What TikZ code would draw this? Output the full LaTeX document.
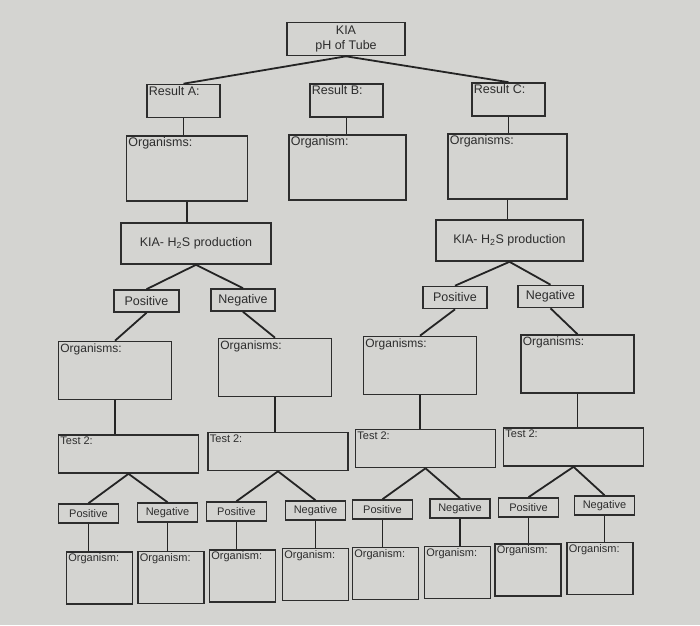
\documentclass[tikz,border=0pt]{standalone}
\usepackage{fontspec}
\setmainfont{Liberation Sans}
\usetikzlibrary{positioning}

\definecolor{paper}{RGB}{212,212,209}
\definecolor{ink}{RGB}{45,45,45}
\newcommand{\fntbig}{\fontsize{12.5}{15}\selectfont}
\newcommand{\fntmid}{\fontsize{12}{14}\selectfont}
\newcommand{\fntsmall}{\fontsize{11}{13}\selectfont}

\tikzset{
  box/.style={draw=ink, line width=1.6pt, inner sep=1pt, text=ink},
  tagbox/.style 2 args={box, label={[anchor=north west, inner sep=2.5pt, text=ink, font=#1]north west:{#2}}},
  wire/.style={draw=ink!80!black, line width=1.8pt}
}

\begin{document}
\begin{tikzpicture}[x=1pt, y=-1pt]
  \fill[paper] (0,0) rectangle (700,625);
  \useasboundingbox (0,0) rectangle (700,625);

  % first test and its three results
  \node[box, font=\fntbig, align=center, minimum width=118pt, minimum height=33pt] (kia) at (346,39) {KIA\\pH of Tube};
  \node[tagbox={\fntbig}{Result A:}, minimum width=73pt, minimum height=33pt] (resa) at (183.5,101) {};
  \node[tagbox={\fntbig}{Result B:}, minimum width=73pt, minimum height=33pt] (resb) at (346.5,100.5) {};
  \node[tagbox={\fntbig}{Result C:}, minimum width=73pt, minimum height=33pt] (resc) at (508.5,99.5) {};

  \node[tagbox={\fntbig}{Organisms:}, minimum width=121pt, minimum height=65pt] (orga) at (187,168.5) {};
  \node[tagbox={\fntbig}{Organism:}, minimum width=117pt, minimum height=65pt] (orgb) at (347.5,167.5) {};
  \node[tagbox={\fntbig}{Organisms:}, minimum width=119pt, minimum height=65pt] (orgc) at (507.5,166.5) {};

  \node[box, font=\fntbig, minimum width=150pt, minimum height=41pt] (hsa) at (196,243.5) {KIA- H\textsubscript{2}S production};
  \node[box, font=\fntbig, minimum width=147pt, minimum height=41pt] (hsc) at (509.5,240.5) {KIA- H\textsubscript{2}S production};

  \node[box, font=\fntbig, minimum width=65pt, minimum height=22pt] (posa) at (146.5,301) {Positive};
  \node[box, font=\fntbig, minimum width=64pt, minimum height=22pt] (nega) at (243,300) {Negative};
  \node[box, font=\fntbig, minimum width=64pt, minimum height=22pt] (posc) at (455,297.5) {Positive};
  \node[box, font=\fntbig, minimum width=65pt, minimum height=22pt] (negc) at (550.5,296.5) {Negative};

  % second level
  \foreach \i/\x/\y in {1/115/370.5, 2/275/367.5, 3/420/365.5, 4/577.5/364}
    \node[tagbox={\fntmid}{Organisms:}, minimum width=113pt, minimum height=58pt] (org\i) at (\x,\y) {};
  \foreach \i/\x/\y in {1/128.5/454, 2/278/451.5, 3/425.5/448.5, 4/573.5/447}
    \node[tagbox={\fntsmall}{Test 2:}, minimum width=140pt, minimum height=38pt] (test\i) at (\x,\y) {};

  % last level
  \foreach \i/\x/\y/\t in {1/88.5/513.5/Positive, 2/167.5/512.5/Negative, 3/236.5/511.5/Positive, 4/315.5/510.5/Negative,
                           5/382.5/509.5/Positive, 6/460/508.5/Negative, 7/528.5/507.5/Positive, 8/604.5/505.5/Negative}
    \node[box, font=\fntsmall, minimum width=60pt, minimum height=19pt] (sign\i) at (\x,\y) {\t};
  \foreach \i/\x/\y in {1/99.5/578, 2/171/577.5, 3/242.5/576, 4/315.5/574.5,
                        5/385.5/573.5, 6/457.5/572.5, 7/528/570, 8/600/568.5}
    \node[tagbox={\fntsmall}{Organism:}, minimum width=66pt, minimum height=52pt] (last\i) at (\x,\y) {};

  % connectors
  \draw[wire] (kia.south) -- (resa.north);
  \draw[wire] (kia.south) -- (resc.north);
  \foreach \r/\o in {resa/orga, resb/orgb, resc/orgc}
    \draw[wire] (\r.south) -- (\r.south |- \o.north);
  \draw[wire] (orga.south) -- (orga.south |- hsa.north);
  \draw[wire] (orgc.south) -- (orgc.south |- hsc.north);
  \foreach \h/\p/\n in {hsa/posa/nega, hsc/posc/negc} {
    \draw[wire] (\h.south) -- (\p.north);
    \draw[wire] (\h.south) -- (\n.north);
  }
  \draw[wire] (posa.south) -- (org1.north);
  \draw[wire] (nega.south) -- (org2.north);
  \draw[wire] (posc.south) -- (org3.north);
  \draw[wire] (negc.south) -- (org4.north);
  \foreach \i in {1,...,4}
    \draw[wire] (org\i.south) -- (org\i.south |- test\i.north);
  \foreach \i/\p/\n in {1/1/2, 2/3/4, 3/5/6, 4/7/8} {
    \draw[wire] (test\i.south) -- (sign\p.north);
    \draw[wire] (test\i.south) -- (sign\n.north);
  }
  \foreach \i in {1,...,8}
    \draw[wire] (sign\i.south) -- (sign\i.south |- last\i.north);
\end{tikzpicture}
\end{document}
